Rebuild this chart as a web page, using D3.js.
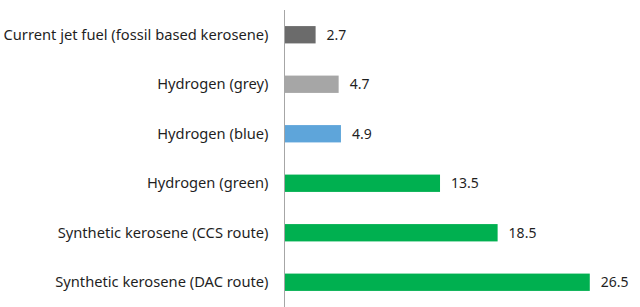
<!DOCTYPE html>
<html>
<head>
<meta charset="utf-8">
<script src="https://cdn.jsdelivr.net/npm/d3@7"></script>
<style>
  body { margin: 0; background: #fff; }
  text { font-family: "Noto Sans", sans-serif; fill: #1f1f1f; }
</style>
</head>
<body>
<svg id="chart" width="640" height="307"></svg>
<script>
// data
const categories = [
    "Current jet fuel (fossil based kerosene)",
    "Hydrogen (grey)",
    "Hydrogen (blue)",
    "Hydrogen (green)",
    "Synthetic kerosene (CCS route)",
    "Synthetic kerosene (DAC route)"
]
const values = [2.7, 4.7, 4.9, 13.5, 18.5, 26.5]
const bar_colors = ["#6b6b6b", "#a6a6a6", "#5ea5da", "#00b050", "#00b050", "#00b050"]

const svg = d3.select("#chart")
const axis_x = 284.5

let x = d3.scaleLinear()
    .domain([0, 30])
    .range([axis_x, axis_x + 30 * 11.52])

let y = d3.scaleBand()
    .domain(categories)
    .range([10, 307])
    .paddingInner(0.65)
    .paddingOuter(0.325)

svg.selectAll("rect.bar")
    .data(values)
    .enter().append("rect")
    .attr("class", "bar")
    .attr("x", x(0))
    .attr("y", (d, i) => y(categories[i]))
    .attr("width", d => x(d) - x(0))
    .attr("height", y.bandwidth())
    .attr("fill", (d, i) => bar_colors[i])

// category labels, right aligned against the axis
svg.selectAll("text.cat")
    .data(categories)
    .enter().append("text")
    .attr("class", "cat")
    .attr("x", axis_x - 16)
    .attr("y", d => y(d) + y.bandwidth() / 2)
    .attr("dy", "0.35em")
    .attr("text-anchor", "end")
    .style("font-size", "14.7px")
    .text(d => d)

// value labels
svg.selectAll("text.val")
    .data(values)
    .enter().append("text")
    .attr("class", "val")
    .attr("x", d => x(d) + 11)
    .attr("y", (d, i) => y(categories[i]) + y.bandwidth() / 2)
    .attr("dy", "0.35em")
    .style("font-size", "14px")
    .text(d => d.toFixed(1))

// vertical axis line
svg.append("line")
    .attr("x1", axis_x).attr("x2", axis_x)
    .attr("y1", 10).attr("y2", 307)
    .attr("stroke", "#a6a6a6")
    .attr("stroke-width", 1)
</script>
</body>
</html>
